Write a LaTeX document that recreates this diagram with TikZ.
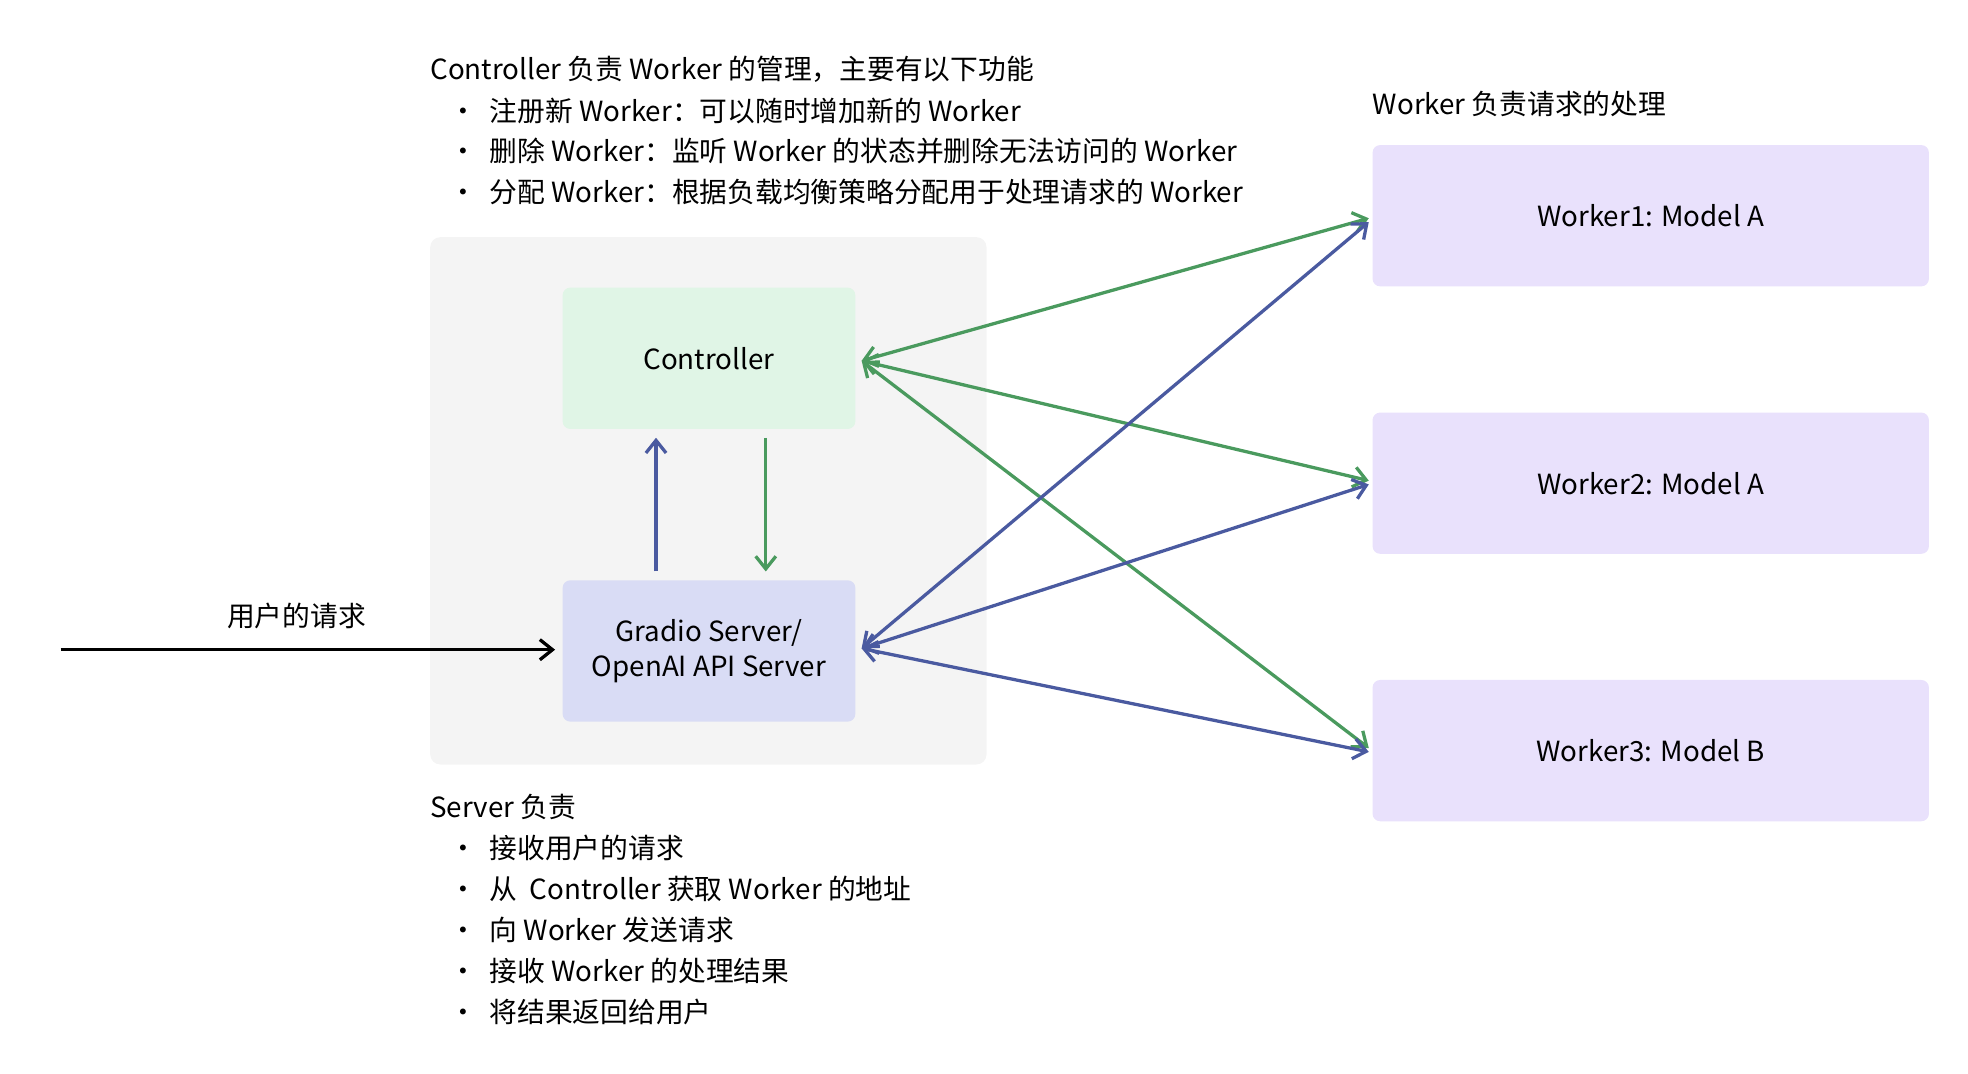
\documentclass[tikz,border=0pt]{standalone}
\usepackage{fontspec}
\setmainfont{Noto Sans CJK SC}
\usetikzlibrary{arrows.meta}
\definecolor{gr}{HTML}{4A9A5E}
\definecolor{bl}{HTML}{4A5AA0}
\definecolor{bgc}{HTML}{F4F4F4}
\definecolor{cf}{HTML}{E0F5E6}
\definecolor{sf}{HTML}{D9DCF5}
\definecolor{wf}{HTML}{E9E1FC}
\begin{document}
\begin{tikzpicture}[x=1pt,y=-1pt,
  box/.style={draw=none,rounded corners=6pt,font=\fontsize{22}{28}\selectfont,align=center},
  txt/.style={anchor=west,font=\fontsize{22}{28}\selectfont,inner sep=0},
  tip/.style={line width=2.6pt,-{Straight Barb[length=10pt,width=16pt]}},
  dtip/.style={line width=2.6pt,{Straight Barb[length=10pt,width=16pt]}-{Straight Barb[length=10pt,width=16pt]}}]
\useasboundingbox (0,0) rectangle (1560,851);
\fill[bgc,rounded corners=8pt] (341,188) rectangle (782,606);
\node[box,fill=cf,minimum width=232pt,minimum height=112pt] (ctl) at (562,284) {Controller};
\node[box,fill=sf,minimum width=232pt,minimum height=112pt] (srv) at (562,516) {Gradio Server/\\OpenAI API Server};
\node[box,fill=wf,minimum width=441pt,minimum height=112pt] (w1) at (1308.5,171) {Worker1: Model A};
\node[box,fill=wf,minimum width=441pt,minimum height=112pt] (w2) at (1308.5,383) {Worker2: Model A};
\node[box,fill=wf,minimum width=441pt,minimum height=112pt] (w3) at (1308.5,595) {Worker3: Model B};
\node[txt] (t0) at (341,55) {Controller 负责 Worker 的管理，主要有以下功能};
\node[txt] (t1) at (356,88) {•\hspace{10pt}注册新 Worker：可以随时增加新的 Worker};
\node[txt] (t2) at (356,120) {•\hspace{10pt}删除 Worker：监听 Worker 的状态并删除无法访问的 Worker};
\node[txt] (t3) at (356,152) {•\hspace{10pt}分配 Worker：根据负载均衡策略分配用于处理请求的 Worker};
\node[txt] (tw) at (1088,82) {Worker 负责请求的处理};
\node[txt] (s0) at (341,640) {Server 负责};
\node[txt] (s1) at (356,672) {•\hspace{10pt}接收用户的请求};
\node[txt] (s2) at (356,705) {•\hspace{10pt}从 \ Controller 获取 Worker 的地址};
\node[txt] (s3) at (356,737) {•\hspace{10pt}向 Worker 发送请求};
\node[txt] (s4) at (356,770) {•\hspace{10pt}接收 Worker 的处理结果};
\node[txt] (s5) at (356,802) {•\hspace{10pt}将结果返回给用户};
\node[font=\fontsize{22}{28}\selectfont] (u) at (235,488) {用户的请求};
\coordinate (ustart) at (48,515);
\draw[tip,black] (ustart) -- (440,515);
\coordinate (ce) at (683,286);
\coordinate (se) at (683,514);
\coordinate (w1a) at (1085,173);
\coordinate (w1b) at (1085,176);
\coordinate (w2a) at (1085,381);
\coordinate (w2b) at (1085,384);
\coordinate (w3a) at (1085,593);
\coordinate (w3b) at (1085,596);
\draw[tip,bl] (520,453) -- (520,347);
\draw[tip,gr] (607,347) -- (607,453);
\draw[dtip,gr] (ce) -- (w1a);
\draw[dtip,gr] (ce) -- (w2a);
\draw[dtip,gr] (ce) -- (w3a);
\draw[dtip,bl] (se) -- (w1b);
\draw[dtip,bl] (se) -- (w2b);
\draw[dtip,bl] (se) -- (w3b);
\end{tikzpicture}
\end{document}
